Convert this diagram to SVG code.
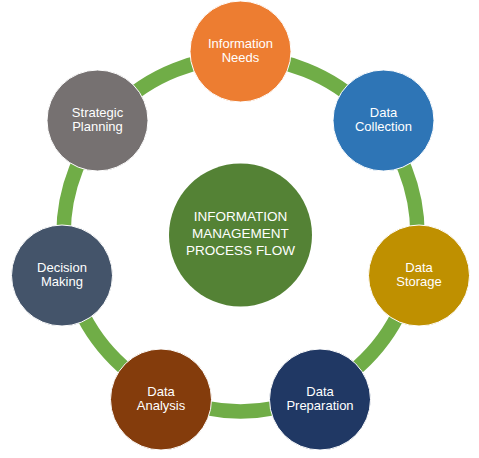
<svg xmlns="http://www.w3.org/2000/svg" width="479" height="458" viewBox="0 0 479 458">
<style>
.node{stroke:#ffffff;stroke-width:1}
.lbl{font-family:"Liberation Sans",Arial,sans-serif;font-size:13px;fill:#ffffff;text-anchor:middle}
.ctr{font-family:"Liberation Sans",Arial,sans-serif;font-size:13.5px;fill:#ffffff;text-anchor:middle}
</style>
<rect width="479" height="458" fill="#ffffff"/>
<g id="connectors">
<circle cx="240.5" cy="234.5" r="177" fill="none" stroke="#70AD47" stroke-width="14.5"/>
</g>
<g id="center">
<circle cx="240.5" cy="235" r="71.5" fill="#548235"/>
<text class="ctr" x="240.5" y="221">INFORMATION</text>
<text class="ctr" x="240.5" y="238">MANAGEMENT</text>
<text class="ctr" x="240.5" y="255">PROCESS FLOW</text>
</g>
<g id="information-needs">
<circle class="node" cx="240.5" cy="51.5" r="50.5" fill="#ED7D31"/>
<text class="lbl" x="240.5" y="47.5">Information</text>
<text class="lbl" x="240.5" y="62">Needs</text>
</g>
<g id="data-collection">
<circle class="node" cx="383.5" cy="120.5" r="50.5" fill="#2E75B6"/>
<text class="lbl" x="383.5" y="116.5">Data</text>
<text class="lbl" x="383.5" y="131">Collection</text>
</g>
<g id="data-storage">
<circle class="node" cx="419" cy="275.5" r="50.5" fill="#BF9000"/>
<text class="lbl" x="419" y="271.5">Data</text>
<text class="lbl" x="419" y="286">Storage</text>
</g>
<g id="data-preparation">
<circle class="node" cx="320" cy="399.5" r="50.5" fill="#203864"/>
<text class="lbl" x="320" y="395.5">Data</text>
<text class="lbl" x="320" y="410">Preparation</text>
</g>
<g id="data-analysis">
<circle class="node" cx="161" cy="399.5" r="50.5" fill="#843C0C"/>
<text class="lbl" x="161" y="395.5">Data</text>
<text class="lbl" x="161" y="410">Analysis</text>
</g>
<g id="decision-making">
<circle class="node" cx="62" cy="275.5" r="50.5" fill="#44546A"/>
<text class="lbl" x="62" y="271.5">Decision</text>
<text class="lbl" x="62" y="286">Making</text>
</g>
<g id="strategic-planning">
<circle class="node" cx="97.5" cy="120.5" r="50.5" fill="#767171"/>
<text class="lbl" x="97.5" y="116.5">Strategic</text>
<text class="lbl" x="97.5" y="131">Planning</text>
</g>
</svg>
